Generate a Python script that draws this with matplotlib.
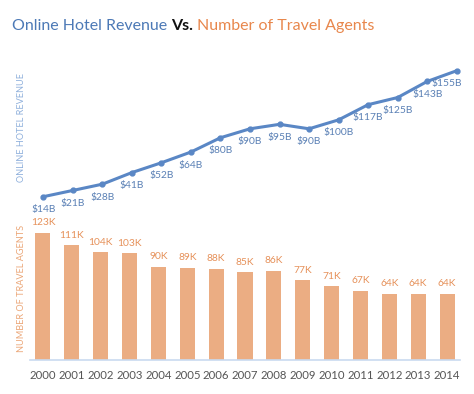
import matplotlib
matplotlib.use("Agg")
import matplotlib.pyplot as plt
import numpy as np

years = ["2000", "2001", "2002", "2003", "2004", "2005", "2006", "2007",
         "2008", "2009", "2010", "2011", "2012", "2013", "2014"]
revenue = [14, 21, 28, 41, 52, 64, 80, 90, 95, 90, 100, 117, 125, 143, 155]
agents = [123, 111, 104, 103, 90, 89, 88, 85, 86, 77, 71, 67, 64, 64, 64]

blue = "#5a87c5"
blue_lbl = "#5a80b5"
blue_light = "#8fb0dc"
orange = "#ebad83"
orange_txt = "#e6915a"
orange_light = "#eba677"

plt.rcParams['font.family'] = ['Lato', 'DejaVu Sans']

W, H = 474, 394
fig = plt.figure(figsize=(W / 100, H / 100), dpi=100)

def px_axes(x0, y0, x1, y1):
    # pixel box (top-left origin) -> figure axes
    return fig.add_axes([x0 / W, 1 - y1 / H, (x1 - x0) / W, (y1 - y0) / H])

x = np.arange(len(years))

# top: revenue line
ax1 = px_axes(30, 60, 470, 200)
ax1.plot(x, revenue, color=blue, lw=2.2, marker="o", ms=3.5, solid_capstyle="round")
ax1.set_xlim(-0.45, 14.45)
ax1.set_ylim(10.3, 167.0)
ax1.axis("off")
for i, v in enumerate(revenue):
    dx = -10 if i == len(revenue) - 1 else 0
    ax1.annotate(f"${v}B", (x[i], v), xytext=(dx, -13), textcoords="offset pixels",
                 ha="center", va="center", fontsize=7.4, color=blue_lbl)
fig.text(22 / W, 1 - 128 / H, "ONLINE HOTEL REVENUE", rotation=90, ha="center",
         va="center", fontsize=6.6, color=blue_light)

# bottom: travel agents bars
ax2 = px_axes(30, 225, 460, 360)
ax2.bar(x, agents, width=0.52, color=orange)
ax2.set_xlim(-0.45, 14.45)
ax2.set_ylim(0, 130.4)
for s in ["top", "right", "left"]:
    ax2.spines[s].set_visible(False)
ax2.spines["bottom"].set_color("#c9daf0")
ax2.spines["bottom"].set_linewidth(1.2)
ax2.set_yticks([])
ax2.set_xticks(x)
ax2.set_xticklabels(years, fontsize=8.2, color="#555555")
ax2.tick_params(axis="x", length=0, pad=7)
for i, v in enumerate(agents):
    ax2.annotate(f"{v}K", (x[i], v), xytext=(0, 10), textcoords="offset pixels",
                 ha="center", va="center", fontsize=7.4, color=orange_txt)
fig.text(22 / W, 1 - 288 / H, "NUMBER OF TRAVEL AGENTS", rotation=90, ha="center",
         va="center", fontsize=6.6, color=orange_light)

# title in three colours
ty = 1 - 26 / H
t1 = fig.text(12 / W, ty, "Online Hotel Revenue ", fontsize=11.5, color="#4c79b6",
              va="center", ha="left")
fig.canvas.draw()
bb = t1.get_window_extent()
t2 = fig.text(bb.x1 / W, ty, "Vs. ", fontsize=11.5, color="#111111",
              va="center", ha="left", fontweight="bold")
fig.canvas.draw()
bb = t2.get_window_extent()
fig.text(bb.x1 / W, ty, "Number of Travel Agents", fontsize=11.5, color="#e8874c",
         va="center", ha="left")

fig.savefig("out.png", dpi=100)
